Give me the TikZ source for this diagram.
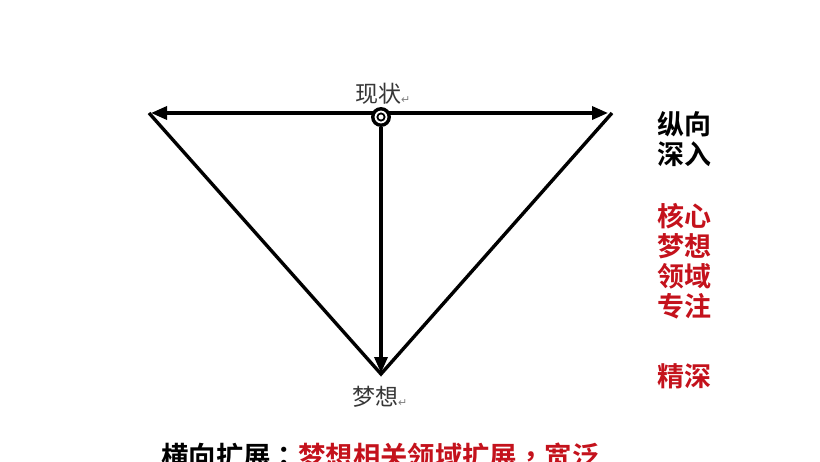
\documentclass[tikz,border=0pt]{standalone}
\usepackage{fontspec}
\newfontfamily\cjk{Noto Sans CJK SC}
\newfontfamily\cjkb{Noto Sans CJK SC Bold}
\newfontfamily\cjktcb{Noto Sans CJK TC Bold}
\newfontfamily\dejavu{DejaVu Sans}
\usetikzlibrary{arrows.meta}
\definecolor{myred}{RGB}{196,18,28}
\definecolor{labgray}{RGB}{55,55,55}
\tikzset{
  edge/.style={line width=3.4pt},
  tip/.tip={Triangle[length=16pt,width=13pt]},
  arr/.style={edge,-tip},
  darr/.style={edge,tip-tip},
  lab/.style={font=\cjk\fontsize{23}{23}\selectfont,text=labgray,inner sep=0pt},
  side/.style={font=\cjkb\fontsize{27}{30}\selectfont,align=left,inner sep=0pt,anchor=north west},
  bottom/.style={font=\cjkb\fontsize{27.4}{27.4}\selectfont,inner sep=0pt,anchor=west},
  hub/.style={circle,draw,line width=3.4pt,minimum size=16.5pt,inner sep=0pt,fill=white}
}
\newcommand{\retmark}{{\dejavu\fontsize{11}{11}\selectfont\textcolor{gray}{\raisebox{-1pt}{↵}}}}
\begin{document}
\begin{tikzpicture}[x=1pt,y=-1pt]
\useasboundingbox[fill=white] (0,0) rectangle (820,461);
\coordinate (L) at (149,113);
\coordinate (R) at (612,113);
\coordinate (B) at (381,374);
\coordinate (Lt) at (151,113);
\coordinate (Rt) at (608,113);
\coordinate (Bt) at (381,373);
\draw[edge,line join=miter] (L) -- (B) -- (R);
\draw[darr] (Lt) -- (Rt);
\node[hub] (hub) at (381,117) {};
\draw[arr] (hub.south) -- (Bt);
\draw[line width=1.8pt] (hub.center) circle (3.6pt);
\node[lab,anchor=west] (now) at (355,94) {现状\retmark};
\node[lab,anchor=west] (dream) at (352,397) {梦想\retmark};
\node[side] (t1) at (657,111) {纵向\\深入};
\node[side,text=myred] (t2) at (657,203) {核心\\梦想\\领域\\专注};
\node[side,text=myred] (t3) at (657,363) {精深};
\node[bottom] (bt) at (161,456) {横向扩展{\cjktcb ：}\textcolor{myred}{梦想相关领域扩展{\cjktcb ，}宽泛}};
\end{tikzpicture}
\end{document}
